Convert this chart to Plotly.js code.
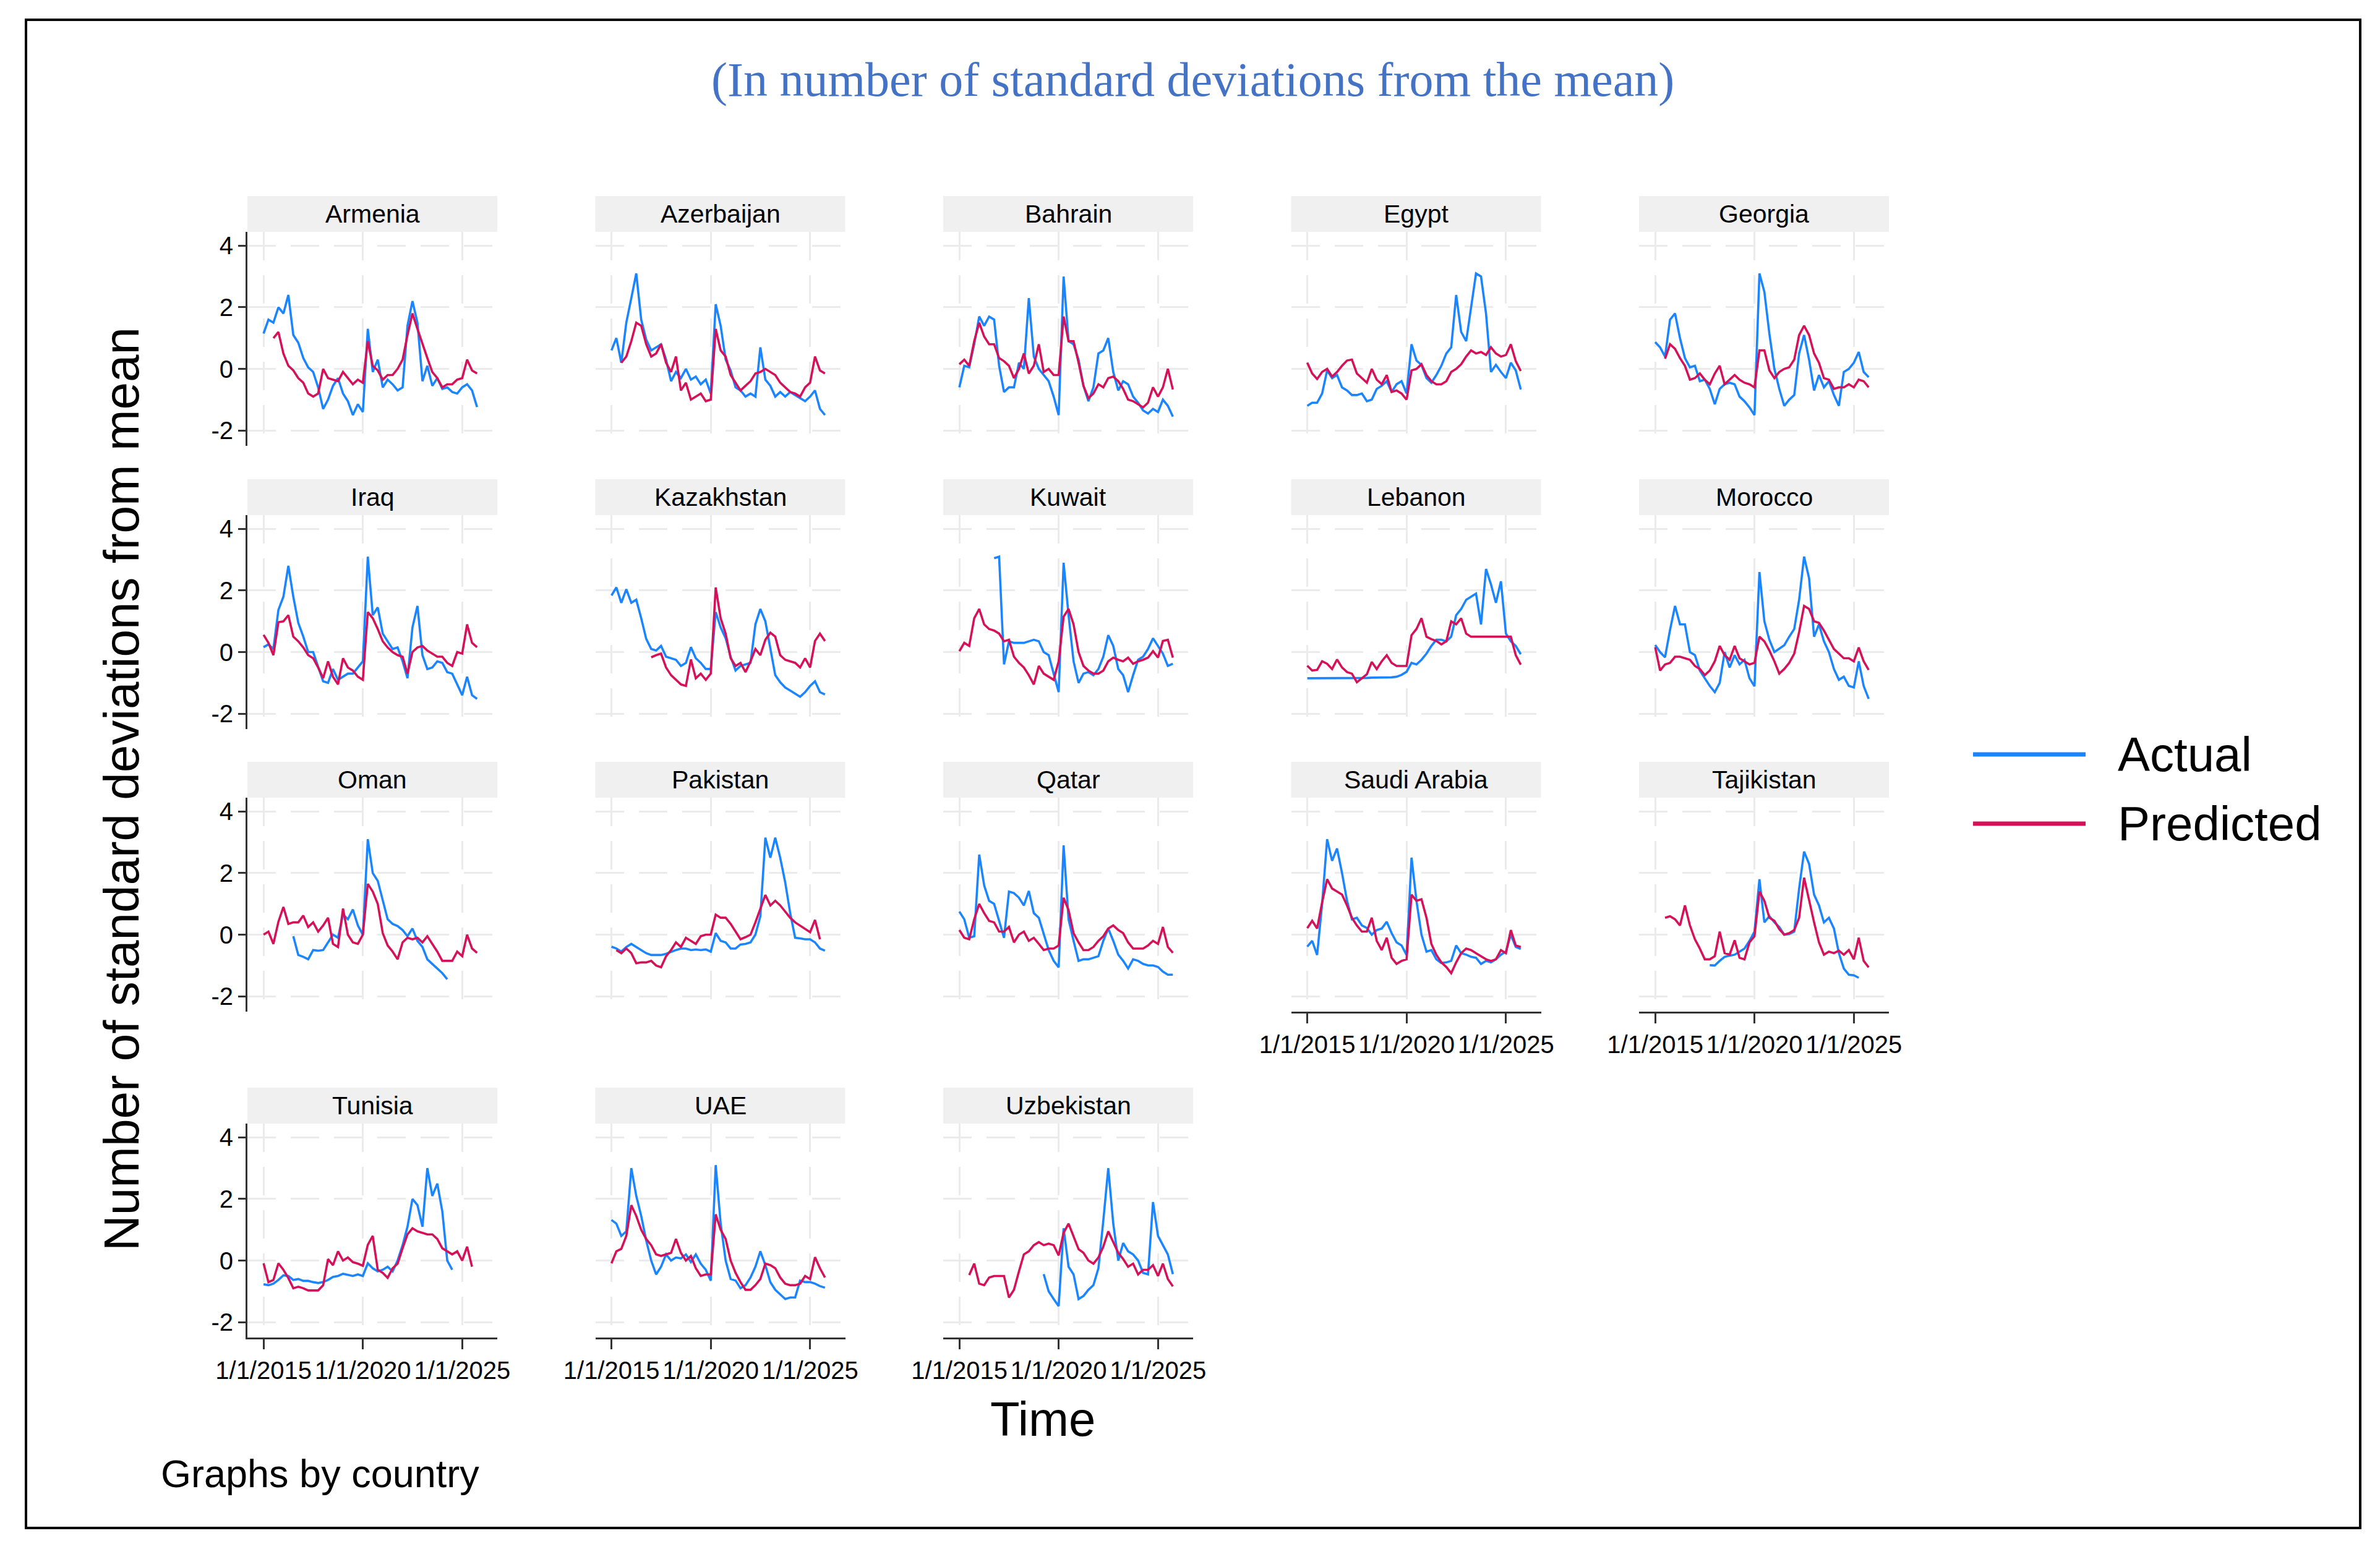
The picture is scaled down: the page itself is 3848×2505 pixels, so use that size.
<!DOCTYPE html>
<html>
<head>
<meta charset="utf-8">
<title>Actual vs predicted, by country</title>
<script src="https://cdn.plot.ly/plotly-3.0.1.min.js"></script>
<style>
  html, body { margin: 0; padding: 0; background: #ffffff; }
  #chart { width: 3848px; height: 2505px; }
</style>
</head>
<body>
<div id="chart"></div>
<script>
/* Small-multiples: actual vs predicted, in standard deviations from the mean.
   Quarterly readings, 2015Q1 .. 2025Q4 (null = no observation). */

const DATES = [
  "2015-01-01","2015-04-01","2015-07-01","2015-10-01",
  "2016-01-01","2016-04-01","2016-07-01","2016-10-01",
  "2017-01-01","2017-04-01","2017-07-01","2017-10-01",
  "2018-01-01","2018-04-01","2018-07-01","2018-10-01",
  "2019-01-01","2019-04-01","2019-07-01","2019-10-01",
  "2020-01-01","2020-04-01","2020-07-01","2020-10-01",
  "2021-01-01","2021-04-01","2021-07-01","2021-10-01",
  "2022-01-01","2022-04-01","2022-07-01","2022-10-01",
  "2023-01-01","2023-04-01","2023-07-01","2023-10-01",
  "2024-01-01","2024-04-01","2024-07-01","2024-10-01",
  "2025-01-01","2025-04-01","2025-07-01","2025-10-01"
];

const COUNTRIES = [
  "Armenia", "Azerbaijan", "Bahrain", "Egypt", "Georgia",
  "Iraq", "Kazakhstan", "Kuwait", "Lebanon", "Morocco",
  "Oman", "Pakistan", "Qatar", "Saudi Arabia", "Tajikistan",
  "Tunisia", "UAE", "Uzbekistan"
];

const X_TICKS     = ["2015-01-01", "2020-01-01", "2025-01-01"];
const X_TICK_TEXT = ["1/1/2015", "1/1/2020", "1/1/2025"];
const Y_TICKS     = [-2, 0, 2, 4];
const Y_TICK_TEXT = ["-2", "0", "2", "4"];

const armeniaAct = [1.15,1.6,1.5,2.0,1.8,2.4,1.1,0.85,0.35,0.05,-0.1,-0.6,-1.3,-1.0,-0.55,-0.3,-0.8,-1.05,-1.5,-1.15,-1.4,1.3,-0.1,0.3,-0.6,-0.35,-0.5,-0.7,-0.6,1.4,2.2,1.5,-0.4,0.1,-0.55,-0.3,-0.65,-0.6,-0.75,-0.8,-0.6,-0.5,-0.7,-1.24];
const armeniaPred = [null,null,1.0,1.2,0.5,0.1,-0.05,-0.3,-0.45,-0.8,-0.9,-0.8,0.0,-0.3,-0.35,-0.4,-0.1,-0.3,-0.5,-0.35,-0.45,0.9,0.1,-0.05,-0.35,-0.2,-0.2,0.0,0.3,1.1,1.8,1.3,0.8,0.35,-0.1,-0.3,-0.6,-0.5,-0.5,-0.35,-0.3,0.3,-0.05,-0.15];

const azerbaijanAct = [0.6,1.0,0.2,1.5,2.3,3.1,1.6,0.95,0.6,0.7,0.8,0.3,-0.4,-0.1,-0.3,0.0,-0.35,-0.25,-0.5,-0.35,-0.8,2.1,1.4,0.3,-0.05,-0.6,-0.7,-0.9,-0.8,-0.9,0.7,-0.35,-0.55,-0.9,-0.75,-0.9,-0.75,-0.85,-0.95,-1.05,-0.9,-0.7,-1.3,-1.5];
const azerbaijanPred = [null,null,0.2,0.4,0.9,1.5,1.4,0.8,0.4,0.5,0.8,0.2,-0.1,0.4,-0.7,-0.45,-1.0,-0.9,-0.8,-1.05,-1.0,1.3,0.6,0.4,-0.2,-0.45,-0.7,-0.55,-0.4,-0.15,-0.1,0.0,-0.1,-0.2,-0.45,-0.6,-0.75,-0.8,-0.9,-0.6,-0.45,0.4,-0.05,-0.15];

const bahrainAct = [-0.6,0.1,0.05,0.8,1.7,1.4,1.7,1.6,0.1,-0.75,-0.6,-0.6,0.2,0.0,2.3,0.4,0.0,-0.2,-0.4,-0.9,-1.5,3.0,0.9,0.8,0.3,-0.55,-1.05,-0.6,0.5,0.6,1.0,-0.1,-0.7,-0.4,-0.5,-0.9,-1.1,-1.35,-1.45,-1.3,-1.4,-1.0,-1.2,-1.55];
const bahrainPred = [0.15,0.3,0.1,0.9,1.5,1.05,0.8,0.8,0.35,0.25,0.1,-0.3,0.0,0.5,-0.15,0.1,0.8,-0.1,0.0,-0.2,-0.2,1.7,0.9,0.9,0.2,-0.55,-0.95,-0.8,-0.5,-0.6,-0.3,-0.25,-0.4,-0.65,-1.0,-1.05,-1.15,-1.25,-1.1,-0.6,-0.9,-0.6,0.0,-0.67];

const egyptAct = [-1.2,-1.1,-1.1,-0.8,-0.05,-0.3,-0.2,-0.6,-0.7,-0.85,-0.85,-0.8,-1.05,-1.0,-0.65,-0.55,-0.4,-0.75,-0.5,-0.4,-0.8,0.8,0.27,0.13,-0.3,-0.45,-0.2,0.1,0.5,0.7,2.4,1.2,0.9,2.0,3.1,3.0,1.8,-0.1,0.13,-0.1,-0.3,0.2,-0.05,-0.67];
const egyptPred = [0.2,-0.15,-0.33,-0.1,0.0,-0.25,-0.1,0.1,0.27,0.3,-0.15,-0.3,-0.45,0.0,-0.35,-0.5,-0.2,-0.75,-0.7,-0.8,-1.0,-0.05,0.0,0.15,-0.2,-0.4,-0.5,-0.5,-0.4,-0.1,0.0,0.15,0.4,0.6,0.5,0.55,0.45,0.7,0.5,0.4,0.45,0.8,0.25,-0.07];

const georgiaAct = [0.87,0.7,0.4,1.6,1.8,1.0,0.35,0.05,0.1,-0.4,-0.35,-0.65,-1.15,-0.65,-0.5,-0.45,-0.5,-0.9,-1.05,-1.25,-1.5,3.1,2.5,1.14,0.0,-0.65,-1.2,-1.0,-0.85,0.5,1.1,0.3,-0.7,-0.2,-0.6,-0.4,-0.85,-1.2,-0.1,0.0,0.2,0.55,-0.1,-0.27];
const georgiaPred = [null,null,0.33,0.8,0.65,0.35,0.1,-0.35,-0.3,-0.15,-0.35,-0.5,-0.15,0.1,-0.5,-0.35,-0.2,-0.35,-0.45,-0.5,-0.6,0.6,0.6,-0.05,-0.3,-0.1,0.0,0.05,0.3,1.1,1.4,1.1,0.5,0.2,-0.3,-0.35,-0.65,-0.6,-0.6,-0.5,-0.6,-0.35,-0.4,-0.6];

const iraqAct = [0.16,0.25,0.1,1.37,1.8,2.8,1.8,0.95,0.5,0.0,0.0,-0.5,-0.95,-1.0,-0.55,-0.9,-0.8,-0.7,-0.7,-0.5,-0.3,3.1,1.2,1.45,0.6,0.35,0.1,0.15,-0.3,-0.85,0.8,1.5,-0.1,-0.55,-0.5,-0.3,-0.35,-0.65,-0.7,-1.05,-1.4,-0.8,-1.4,-1.52];
const iraqPred = [0.56,0.3,-0.1,0.97,1.0,1.2,0.5,0.35,0.15,-0.1,-0.2,-0.5,-0.85,-0.3,-0.8,-1.05,-0.2,-0.5,-0.6,-0.8,-0.9,1.3,1.1,0.75,0.35,0.15,0.0,-0.1,-0.15,-0.7,0.0,0.15,0.2,0.05,-0.05,-0.15,-0.15,-0.35,-0.45,0.0,-0.05,0.9,0.3,0.16];

const kazakhstanAct = [1.84,2.1,1.6,2.04,1.6,1.7,1.1,0.43,0.1,0.05,0.2,-0.15,-0.2,-0.25,-0.45,-0.35,0.16,-0.2,-0.35,-0.55,-0.55,1.3,0.8,0.45,-0.15,-0.6,-0.45,-0.4,-0.35,0.9,1.4,1.0,0.1,-0.75,-0.98,-1.15,-1.25,-1.35,-1.45,-1.3,-1.1,-0.95,-1.3,-1.38];
const kazakhstanPred = [null,null,null,null,null,null,null,null,-0.17,-0.1,-0.05,-0.5,-0.75,-0.9,-1.05,-1.1,-0.24,-0.85,-0.7,-0.9,-0.7,2.1,1.1,0.6,-0.2,-0.45,-0.35,-0.65,-0.3,0.1,-0.1,0.4,0.63,0.5,-0.1,-0.25,-0.3,-0.35,-0.5,-0.2,-0.5,0.36,0.6,0.36];

const kuwaitAct = [null,null,null,null,null,null,null,3.05,3.1,-0.4,0.35,0.3,0.3,0.3,0.35,0.4,0.35,0.0,-0.1,-0.7,-1.3,2.9,1.2,-0.3,-1.0,-0.7,-0.65,-0.75,-0.55,-0.15,0.55,0.2,-0.55,-0.75,-1.3,-0.75,-0.25,-0.15,0.1,0.45,0.2,-0.05,-0.45,-0.38];
const kuwaitPred = [0.03,0.3,0.2,1.1,1.4,0.9,0.75,0.7,0.6,0.35,0.4,-0.15,-0.35,-0.5,-0.75,-1.05,-0.45,-0.7,-0.8,-0.9,-0.3,1.15,1.4,0.9,0.0,-0.45,-0.6,-0.7,-0.7,-0.6,-0.3,-0.18,-0.25,-0.3,-0.18,-0.38,-0.3,-0.25,-0.18,0.03,-0.18,0.36,0.4,-0.18];

const lebanonAct = [-0.85,-0.85,-0.85,-0.85,-0.85,-0.85,-0.85,-0.85,-0.85,-0.85,-0.85,-0.84,-0.84,-0.83,-0.83,-0.82,-0.82,-0.82,-0.8,-0.74,-0.64,-0.35,-0.4,-0.25,-0.05,0.2,0.4,0.4,0.35,0.5,1.2,1.4,1.7,1.8,1.9,0.9,2.7,2.2,1.6,2.3,0.6,0.35,0.2,-0.07];
const lebanonPred = [-0.44,-0.6,-0.58,-0.3,-0.38,-0.55,-0.24,-0.5,-0.65,-0.7,-0.98,-0.85,-0.72,-0.32,-0.55,-0.3,-0.1,-0.35,-0.45,-0.45,-0.45,0.55,0.75,1.1,0.5,0.42,0.36,0.25,0.35,1.0,0.9,1.1,0.6,0.5,0.5,0.5,0.5,0.5,0.5,0.5,0.5,0.5,-0.1,-0.41];

const moroccoAct = [0.23,0.0,-0.17,0.72,1.5,0.9,0.9,0.0,-0.1,-0.6,-0.85,-1.1,-1.3,-1.0,0.0,-0.5,-0.1,-0.4,-0.25,-0.85,-1.11,2.6,1.0,0.4,0.0,0.1,0.22,0.5,0.75,1.7,3.1,2.4,0.5,0.9,0.35,0.0,-0.55,-0.9,-0.8,-1.1,-1.15,-0.3,-1.1,-1.52];
const moroccoPred = [0.16,-0.6,-0.4,-0.35,-0.15,-0.15,-0.2,-0.25,-0.45,-0.55,-0.75,-0.6,-0.3,0.2,-0.1,-0.25,0.2,-0.2,-0.3,-0.4,-0.35,0.5,0.35,0.05,-0.3,-0.7,-0.55,-0.35,-0.05,0.65,1.5,1.4,1.0,0.95,0.7,0.4,0.1,-0.05,-0.2,-0.2,-0.3,0.15,-0.3,-0.58];

const omanAct = [null,null,null,null,null,null,-0.05,-0.66,-0.72,-0.8,-0.5,-0.52,-0.5,-0.25,0.0,-0.1,0.65,0.5,0.82,0.3,0.0,3.1,2.0,1.75,1.1,0.5,0.35,0.28,0.15,-0.05,0.2,-0.2,-0.4,-0.8,-0.95,-1.1,-1.25,-1.45,null,null,null,null,null,null];
const omanPred = [0.0,0.1,-0.3,0.42,0.9,0.35,0.4,0.4,0.62,0.25,0.4,0.1,0.3,0.55,-0.3,-0.4,0.85,0.0,-0.25,-0.3,0.0,1.65,1.4,1.0,0.05,-0.35,-0.55,-0.8,-0.25,-0.1,-0.15,-0.1,-0.25,-0.05,-0.3,-0.55,-0.85,-0.85,-0.85,-0.55,-0.7,0.0,-0.45,-0.59];

const pakistanAct = [-0.39,-0.45,-0.55,-0.4,-0.3,-0.39,-0.5,-0.6,-0.66,-0.66,-0.66,-0.62,-0.55,-0.5,-0.45,-0.45,-0.5,-0.48,-0.5,-0.48,-0.55,0.05,-0.2,-0.25,-0.45,-0.45,-0.32,-0.3,-0.25,0.0,0.6,3.15,2.5,3.15,2.5,1.7,0.7,-0.1,-0.12,-0.15,-0.15,-0.25,-0.45,-0.52];
const pakistanPred = [null,-0.5,-0.6,-0.45,-0.6,-0.93,-0.9,-0.9,-0.85,-1.0,-1.06,-0.7,-0.5,-0.25,-0.4,-0.1,-0.2,-0.3,-0.05,0.0,0.0,0.65,0.55,0.55,0.35,0.1,-0.15,-0.08,0.0,0.4,0.85,1.29,0.95,1.1,0.95,0.75,0.55,0.4,0.3,0.2,0.08,0.48,-0.15,null];

const qatarAct = [0.75,0.5,-0.1,-0.05,2.6,1.6,1.1,1.0,0.45,-0.1,1.4,1.35,1.2,0.95,1.42,0.7,0.55,0.0,-0.5,-0.85,-1.06,2.9,0.5,-0.2,-0.85,-0.8,-0.8,-0.75,-0.7,-0.2,0.2,-0.2,-0.65,-0.85,-1.1,-0.8,-0.85,-0.95,-1.0,-1.0,-1.05,-1.2,-1.3,-1.3];
const qatarPred = [0.15,-0.1,-0.15,0.5,1.0,0.7,0.45,0.4,0.1,0.1,0.25,-0.25,0.0,0.1,-0.2,-0.1,-0.3,-0.5,-0.45,-0.45,-0.35,1.2,0.8,0.05,-0.25,-0.5,-0.5,-0.4,-0.2,-0.05,0.2,0.3,0.15,0.05,-0.25,-0.45,-0.45,-0.45,-0.35,-0.2,-0.3,0.25,-0.4,-0.59];

const saudiAct = [-0.39,-0.2,-0.66,1.0,3.1,2.4,2.8,2.0,1.1,0.5,0.55,0.3,0.22,0.0,0.15,0.2,0.42,0.05,-0.25,-0.35,-0.66,2.5,1.1,0.0,-0.55,-0.5,-0.8,-0.92,-0.9,-0.85,-0.35,-0.6,-0.65,-0.72,-0.75,-0.95,-0.85,-0.9,-0.8,-0.65,-0.55,0.0,-0.4,-0.46];
const saudiPred = [0.21,0.45,0.2,1.05,1.8,1.5,1.4,1.3,0.95,0.55,0.3,0.1,0.1,0.55,-0.2,-0.5,-0.1,-0.75,-0.95,-0.85,-0.8,1.3,1.1,1.15,0.55,-0.3,-0.65,-0.9,-1.05,-1.25,-0.9,-0.6,-0.45,-0.5,-0.6,-0.7,-0.8,-0.85,-0.8,-0.5,-0.6,0.15,-0.35,-0.4];

const tajikistanAct = [null,null,null,null,null,null,null,null,null,null,null,-0.99,-1.0,-0.85,-0.72,-0.68,-0.65,-0.55,-0.45,-0.2,0.1,1.8,0.4,0.6,0.4,0.25,0.0,0.02,0.1,1.5,2.7,2.3,1.3,0.95,0.4,0.55,0.2,-0.6,-1.1,-1.3,-1.32,-1.4,null,null];
const tajikistanPred = [null,null,0.55,0.6,0.5,0.3,0.95,0.3,-0.15,-0.45,-0.8,-0.8,-0.7,0.1,-0.6,-0.65,-0.18,-0.75,-0.8,-0.25,-0.05,1.4,1.1,0.55,0.45,0.18,0.0,0.05,0.15,0.55,1.85,1.1,0.4,-0.25,-0.65,-0.55,-0.6,-0.52,-0.65,-0.5,-0.8,-0.1,-0.85,-1.06];

const tunisiaAct = [-0.77,-0.8,-0.75,-0.63,-0.48,-0.5,-0.63,-0.6,-0.66,-0.66,-0.7,-0.73,-0.7,-0.63,-0.53,-0.5,-0.43,-0.47,-0.5,-0.45,-0.5,-0.09,-0.25,-0.35,-0.3,-0.2,-0.35,0.0,0.5,1.1,2.0,1.8,1.1,3.0,2.1,2.5,1.6,0.0,-0.3,null,null,null,null,null];
const tunisiaPred = [-0.09,-0.7,-0.63,-0.09,-0.3,-0.57,-0.9,-0.85,-0.9,-0.97,-0.97,-0.97,-0.8,0.05,-0.15,0.3,0.0,0.1,-0.05,-0.1,-0.17,0.51,0.8,-0.3,-0.4,-0.56,-0.25,-0.1,0.4,0.85,1.05,0.95,0.9,0.85,0.85,0.7,0.4,0.3,0.2,0.3,0.0,0.45,-0.2,null];

const uaeAct = [1.32,1.2,0.8,0.95,3.0,2.1,1.45,0.65,0.0,-0.45,-0.2,0.2,0.0,0.1,0.07,0.2,-0.05,0.2,-0.1,-0.3,-0.65,3.1,1.2,0.0,-0.6,-0.65,-0.9,-0.8,-0.55,-0.2,0.3,-0.15,-0.7,-0.95,-1.1,-1.25,-1.2,-1.2,-0.65,-0.7,-0.7,-0.75,-0.83,-0.88];
const uaePred = [-0.09,0.3,0.38,0.8,1.8,1.45,1.0,0.7,0.5,0.2,0.15,0.2,0.25,0.7,0.25,0.0,0.15,-0.25,-0.5,-0.45,-0.45,1.5,1.0,0.7,0.0,-0.4,-0.7,-0.95,-0.95,-0.8,-0.6,-0.1,-0.15,-0.25,-0.55,-0.75,-0.8,-0.8,-0.75,-0.5,-0.6,0.11,-0.25,-0.55];

const uzbekistanAct = [null,null,null,null,null,null,null,null,null,null,null,null,null,null,null,null,null,-0.44,-1.0,-1.25,-1.48,1.05,-0.2,-0.45,-1.25,-1.15,-0.95,-0.8,-0.25,1.3,3.0,1.2,0.0,0.57,0.3,0.2,0.0,-0.4,-0.45,1.9,0.8,0.5,0.2,-0.44];
const uzbekistanPred = [null,null,-0.47,-0.1,-0.75,-0.8,-0.55,-0.5,-0.5,-0.5,-1.2,-0.95,-0.35,0.2,0.3,0.5,0.6,0.5,0.55,0.5,0.17,0.9,1.2,0.8,0.37,0.25,0.0,-0.1,0.1,0.45,0.95,0.6,0.25,0.05,-0.2,-0.1,-0.45,-0.3,-0.3,-0.15,-0.5,-0.1,-0.6,-0.84];

const ACTUAL = [armeniaAct, azerbaijanAct, bahrainAct, egyptAct, georgiaAct,
  iraqAct, kazakhstanAct, kuwaitAct, lebanonAct, moroccoAct,
  omanAct, pakistanAct, qatarAct, saudiAct, tajikistanAct,
  tunisiaAct, uaeAct, uzbekistanAct];
const PREDICTED = [armeniaPred, azerbaijanPred, bahrainPred, egyptPred, georgiaPred,
  iraqPred, kazakhstanPred, kuwaitPred, lebanonPred, moroccoPred,
  omanPred, pakistanPred, qatarPred, saudiPred, tajikistanPred,
  tunisiaPred, uaePred, uzbekistanPred];

// ---- page geometry (pixels of the 3848 x 2505 canvas) ----
const W = 3848, H = 2505;
const COL_LEFT = [400, 962.5, 1525, 2087.5, 2650];
const PANEL_W = 404;
const STRIP_TOP = [317, 775, 1232, 1759];
const STRIP_H = 58, PLOT_H = 346;
const BOTTOM = new Set([13, 14, 15, 16, 17]);   // panels that carry the date axis

const BLUE = "#1A85FF", RED = "#D41159";
const FONT = "Liberation Sans, Arial, Helvetica, sans-serif";
const GRID = { showgrid: true, gridcolor: "#EBEBEB", gridwidth: 3, griddash: "46px,24px" };

const px = x => x / W;
const py = y => 1 - y / H;

const data = [];
const layout = {
  width: W, height: H,
  margin: { l: 0, r: 0, t: 0, b: 0 },
  paper_bgcolor: "#ffffff", plot_bgcolor: "#ffffff",
  font: { family: FONT, color: "#000000", size: 40 },
  showlegend: false,
  shapes: [], annotations: [],
};

COUNTRIES.forEach((name, k) => {
  const r = Math.floor(k / 5), c = k % 5;
  const sfx = k === 0 ? "" : String(k + 1);
  const x0 = COL_LEFT[c], x1 = x0 + PANEL_W;
  const top = STRIP_TOP[r] + STRIP_H, bot = top + PLOT_H;
  const isBottom = BOTTOM.has(k), isLeft = c === 0;

  layout["xaxis" + sfx] = {
    ...GRID,
    domain: [px(x0), px(x1)], anchor: "y" + sfx,
    type: "date", range: ["2014-03-10", "2026-10-08"],
    tickmode: "array", tickvals: X_TICKS, ticktext: X_TICK_TEXT, tickangle: 0,
    showticklabels: isBottom, ticks: isBottom ? "outside" : "",
    ticklen: 16, tickwidth: 3, tickcolor: "#333333",
    showline: isBottom, linecolor: "#333333", linewidth: 3,
    zeroline: false, fixedrange: true,
    tickfont: { family: FONT, size: 40, color: "#000000" },
  };
  layout["yaxis" + sfx] = {
    ...GRID,
    domain: [py(bot), py(top)], anchor: "x" + sfx,
    range: [-2.5, 4.45],
    tickmode: "array", tickvals: Y_TICKS, ticktext: Y_TICK_TEXT,
    showticklabels: isLeft, ticks: isLeft ? "outside" : "",
    ticklen: 12, tickwidth: 3, tickcolor: "#333333",
    showline: isLeft, linecolor: "#333333", linewidth: 3,
    zeroline: false, fixedrange: true,
    tickfont: { family: FONT, size: 40, color: "#000000" },
  };

  data.push({
    type: "scatter", mode: "lines", name: "Actual",
    x: DATES, y: ACTUAL[k], xaxis: "x" + sfx, yaxis: "y" + sfx,
    line: { color: BLUE, width: 3.6 }, connectgaps: false, hoverinfo: "skip",
  });
  data.push({
    type: "scatter", mode: "lines", name: "Predicted",
    x: DATES, y: PREDICTED[k], xaxis: "x" + sfx, yaxis: "y" + sfx,
    line: { color: RED, width: 3.6 }, connectgaps: false, hoverinfo: "skip",
  });

  // grey strip with the country name
  layout.shapes.push({
    type: "rect", xref: "paper", yref: "paper", layer: "below",
    x0: px(x0), x1: px(x1), y0: py(STRIP_TOP[r] + STRIP_H), y1: py(STRIP_TOP[r]),
    fillcolor: "#F0F0F0", line: { width: 0 },
  });
  layout.annotations.push({
    xref: "paper", yref: "paper", x: px((x0 + x1) / 2), y: py(STRIP_TOP[r] + STRIP_H / 2),
    text: name, showarrow: false, xanchor: "center", yanchor: "middle",
    font: { family: FONT, size: 41, color: "#000000" },
  });
});

// outer frame
layout.shapes.push({
  type: "rect", xref: "paper", yref: "paper",
  x0: px(42), x1: px(3816), y0: py(2471), y1: py(32),
  line: { color: "#000000", width: 4 }, fillcolor: "rgba(0,0,0,0)",
});

// legend (drawn by hand so the key lines get their long Stata-style length)
const LEGEND = [
  { label: "Actual",    color: BLUE, y: 1220 },
  { label: "Predicted", color: RED,  y: 1332 },
];
LEGEND.forEach(item => {
  layout.shapes.push({
    type: "line", xref: "paper", yref: "paper",
    x0: px(3190), x1: px(3372), y0: py(item.y), y1: py(item.y),
    line: { color: item.color, width: 7 },
  });
  layout.annotations.push({
    xref: "paper", yref: "paper", x: px(3422), y: py(item.y),
    text: item.label, showarrow: false, xanchor: "left", yanchor: "middle",
    font: { family: FONT, size: 78, color: "#000000" },
  });
});

layout.annotations.push(
  {
    xref: "paper", yref: "paper", x: px(1929), y: py(128),
    text: "(In number of standard deviations from the mean)", showarrow: false,
    xanchor: "center", yanchor: "middle",
    font: { family: "Liberation Serif, Times New Roman, serif", size: 78, color: "#4472C4" },
  },
  {
    xref: "paper", yref: "paper", x: px(196), y: py(1276), textangle: -90,
    text: "Number of standard deviations from mean", showarrow: false,
    xanchor: "center", yanchor: "middle",
    font: { family: FONT, size: 80, color: "#000000" },
  },
  {
    xref: "paper", yref: "paper", x: px(1686), y: py(2295),
    text: "Time", showarrow: false, xanchor: "center", yanchor: "middle",
    font: { family: FONT, size: 78, color: "#000000" },
  },
  {
    xref: "paper", yref: "paper", x: px(258), y: py(2383),
    text: "Graphs by country", showarrow: false, xanchor: "left", yanchor: "middle",
    font: { family: FONT, size: 63, color: "#000000" },
  }
);

Plotly.newPlot("chart", data, layout, { displayModeBar: false, staticPlot: true });
</script>
</body>
</html>
